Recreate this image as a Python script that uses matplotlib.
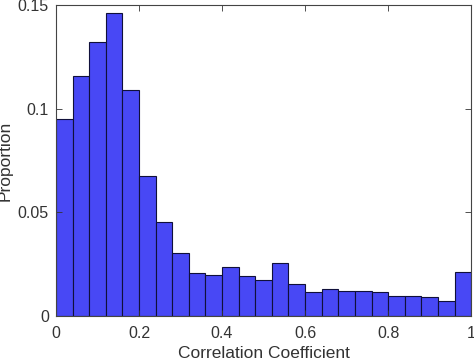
import matplotlib
matplotlib.use("Agg")
import matplotlib.pyplot as plt
import numpy as np

# histogram bin edges (25 bins of width 0.04) and proportions
bin_edges = np.linspace(0, 1, 26)
proportion = [0.0953, 0.1156, 0.1324, 0.1460, 0.1090, 0.0677, 0.0453, 0.0303,
              0.0210, 0.0200, 0.0239, 0.0194, 0.0174, 0.0255, 0.0155, 0.0115,
              0.0132, 0.0123, 0.0119, 0.0115, 0.0097, 0.0097, 0.0092, 0.0071,
              0.0215]

plt.rcParams['font.family'] = ['Liberation Sans', 'DejaVu Sans']

fig = plt.figure(figsize=(4.74, 3.63), dpi=100)
ax = fig.add_axes([0.118, 0.129, 0.876, 0.857])

ax.hist(bin_edges[:-1], bins=bin_edges, weights=proportion,
        color='#4848F5', edgecolor='#10103a', linewidth=0.8)

ax.set_xlim(0, 1)
ax.set_ylim(0, 0.15)
ax.set_xticks([0, 0.2, 0.4, 0.6, 0.8, 1])
ax.set_xticklabels(['0', '0.2', '0.4', '0.6', '0.8', '1'])
ax.set_yticks([0, 0.05, 0.1, 0.15])
ax.set_yticklabels(['0', '0.05', '0.1', '0.15'])
ax.tick_params(direction='in', top=True, right=True, length=4,
               labelsize=11.5, colors='#333333', labelcolor='#333333', width=0.6)
ax.tick_params(axis='x', pad=7)
ax.tick_params(axis='y', pad=5)
for s in ax.spines.values():
    s.set_color('#444444')
    s.set_linewidth(0.8)

ax.set_xlabel('Correlation Coefficient', fontsize=12.5, color='#333333', labelpad=4)
ax.set_ylabel('Proportion', fontsize=12.5, color='#333333', labelpad=4)

fig.savefig('out.png', dpi=100, facecolor='white')
